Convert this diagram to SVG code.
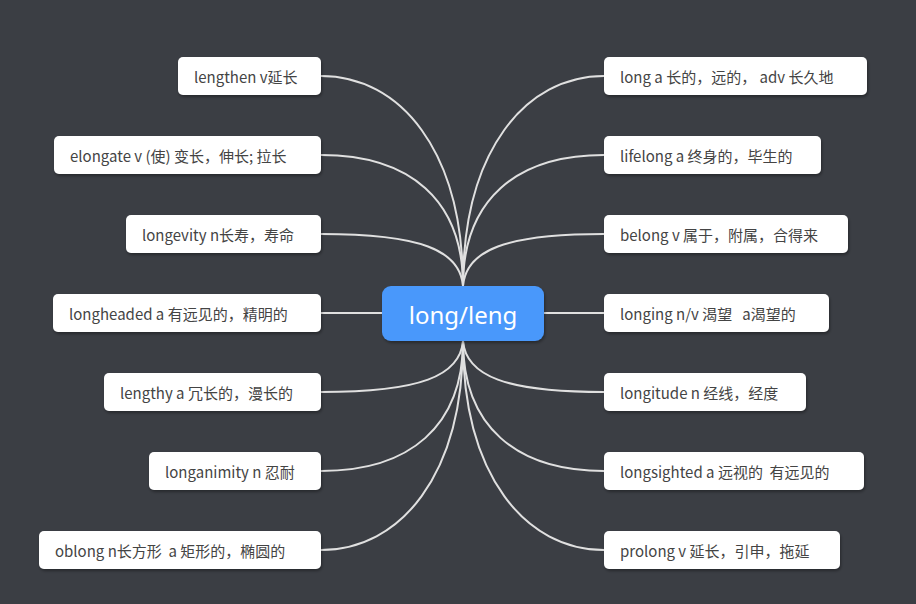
<svg xmlns="http://www.w3.org/2000/svg" width="916" height="604" viewBox="0 0 916 604">
<defs><style>
.n rect{fill:#fff}
.n text{font-family:"Microsoft YaHei","Noto Sans CJK SC",sans-serif;font-size:15px;fill:#444;dominant-baseline:central}
.c path{fill:none;stroke:#e0e0e0;stroke-width:2}
</style>
<filter id="sh" x="-10%" y="-20%" width="120%" height="150%"><feDropShadow dx="1" dy="2" stdDeviation="1.5" flood-color="#000" flood-opacity="0.35"/></filter>
</defs>
<rect width="916" height="604" fill="#3b3e44"/>
<g class="c">
<path d="M463,286 C463,150 400,76 321,76"/>
<path d="M463,286 C463,200 410,155 321,155"/>
<path d="M463,286 C460,250 420,234 321,234"/>
<path d="M382,313 L321,313"/>
<path d="M463,341 C460,376 420,392 321,392"/>
<path d="M463,341 C463,426 410,471 321,471"/>
<path d="M463,341 C463,476 400,550 321,550"/>
<path d="M463,286 C463,150 526,76 604,76"/>
<path d="M463,286 C463,200 516,155 604,155"/>
<path d="M463,286 C466,250 506,234 604,234"/>
<path d="M544,313 L604,313"/>
<path d="M463,341 C466,376 506,392 604,392"/>
<path d="M463,341 C463,426 516,471 604,471"/>
<path d="M463,341 C463,476 526,550 604,550"/>
</g>
<g id="center"><rect x="382" y="286" width="162" height="55" rx="9" fill="#4a98fb" filter="url(#sh)"/><text x="463" y="314" text-anchor="middle" dominant-baseline="central" font-family="Microsoft YaHei,Noto Sans,sans-serif" font-size="24" fill="#fff">long/leng</text></g>
<g id="l1" class="n"><rect x="178" y="57" width="143" height="38" rx="5" filter="url(#sh)"/><text x="194" y="76">lengthen v延长</text></g>
<g id="l2" class="n"><rect x="54" y="136" width="267" height="38" rx="5" filter="url(#sh)"/><text x="70" y="155">elongate v (使) 变长，伸长; 拉长</text></g>
<g id="l3" class="n"><rect x="126" y="215" width="195" height="38" rx="5" filter="url(#sh)"/><text x="142" y="234">longevity n长寿，寿命</text></g>
<g id="l4" class="n"><rect x="53" y="294" width="268" height="38" rx="5" filter="url(#sh)"/><text x="69" y="313">longheaded a 有远见的，精明的</text></g>
<g id="l5" class="n"><rect x="104" y="373" width="217" height="38" rx="5" filter="url(#sh)"/><text x="120" y="392">lengthy a 冗长的，漫长的</text></g>
<g id="l6" class="n"><rect x="149" y="452" width="172" height="38" rx="5" filter="url(#sh)"/><text x="165" y="471">longanimity n 忍耐</text></g>
<g id="l7" class="n"><rect x="39" y="531" width="282" height="38" rx="5" filter="url(#sh)"/><text x="55" y="550" xml:space="preserve">oblong n长方形  a 矩形的，椭圆的</text></g>
<g id="r1" class="n"><rect x="604" y="57" width="263" height="38" rx="5" filter="url(#sh)"/><text x="620" y="76" xml:space="preserve">long a 长的，远的， adv 长久地</text></g>
<g id="r2" class="n"><rect x="604" y="136" width="217" height="38" rx="5" filter="url(#sh)"/><text x="620" y="155">lifelong a 终身的，毕生的</text></g>
<g id="r3" class="n"><rect x="604" y="215" width="244" height="38" rx="5" filter="url(#sh)"/><text x="620" y="234">belong v 属于，附属，合得来</text></g>
<g id="r4" class="n"><rect x="604" y="294" width="225" height="38" rx="5" filter="url(#sh)"/><text x="620" y="313" xml:space="preserve">longing n/v 渴望   a渴望的</text></g>
<g id="r5" class="n"><rect x="604" y="373" width="202" height="38" rx="5" filter="url(#sh)"/><text x="620" y="392">longitude n 经线，经度</text></g>
<g id="r6" class="n"><rect x="604" y="452" width="260" height="38" rx="5" filter="url(#sh)"/><text x="620" y="471" xml:space="preserve">longsighted a 远视的  有远见的</text></g>
<g id="r7" class="n"><rect x="604" y="531" width="236" height="38" rx="5" filter="url(#sh)"/><text x="620" y="550">prolong v 延长，引申，拖延</text></g>
</svg>
